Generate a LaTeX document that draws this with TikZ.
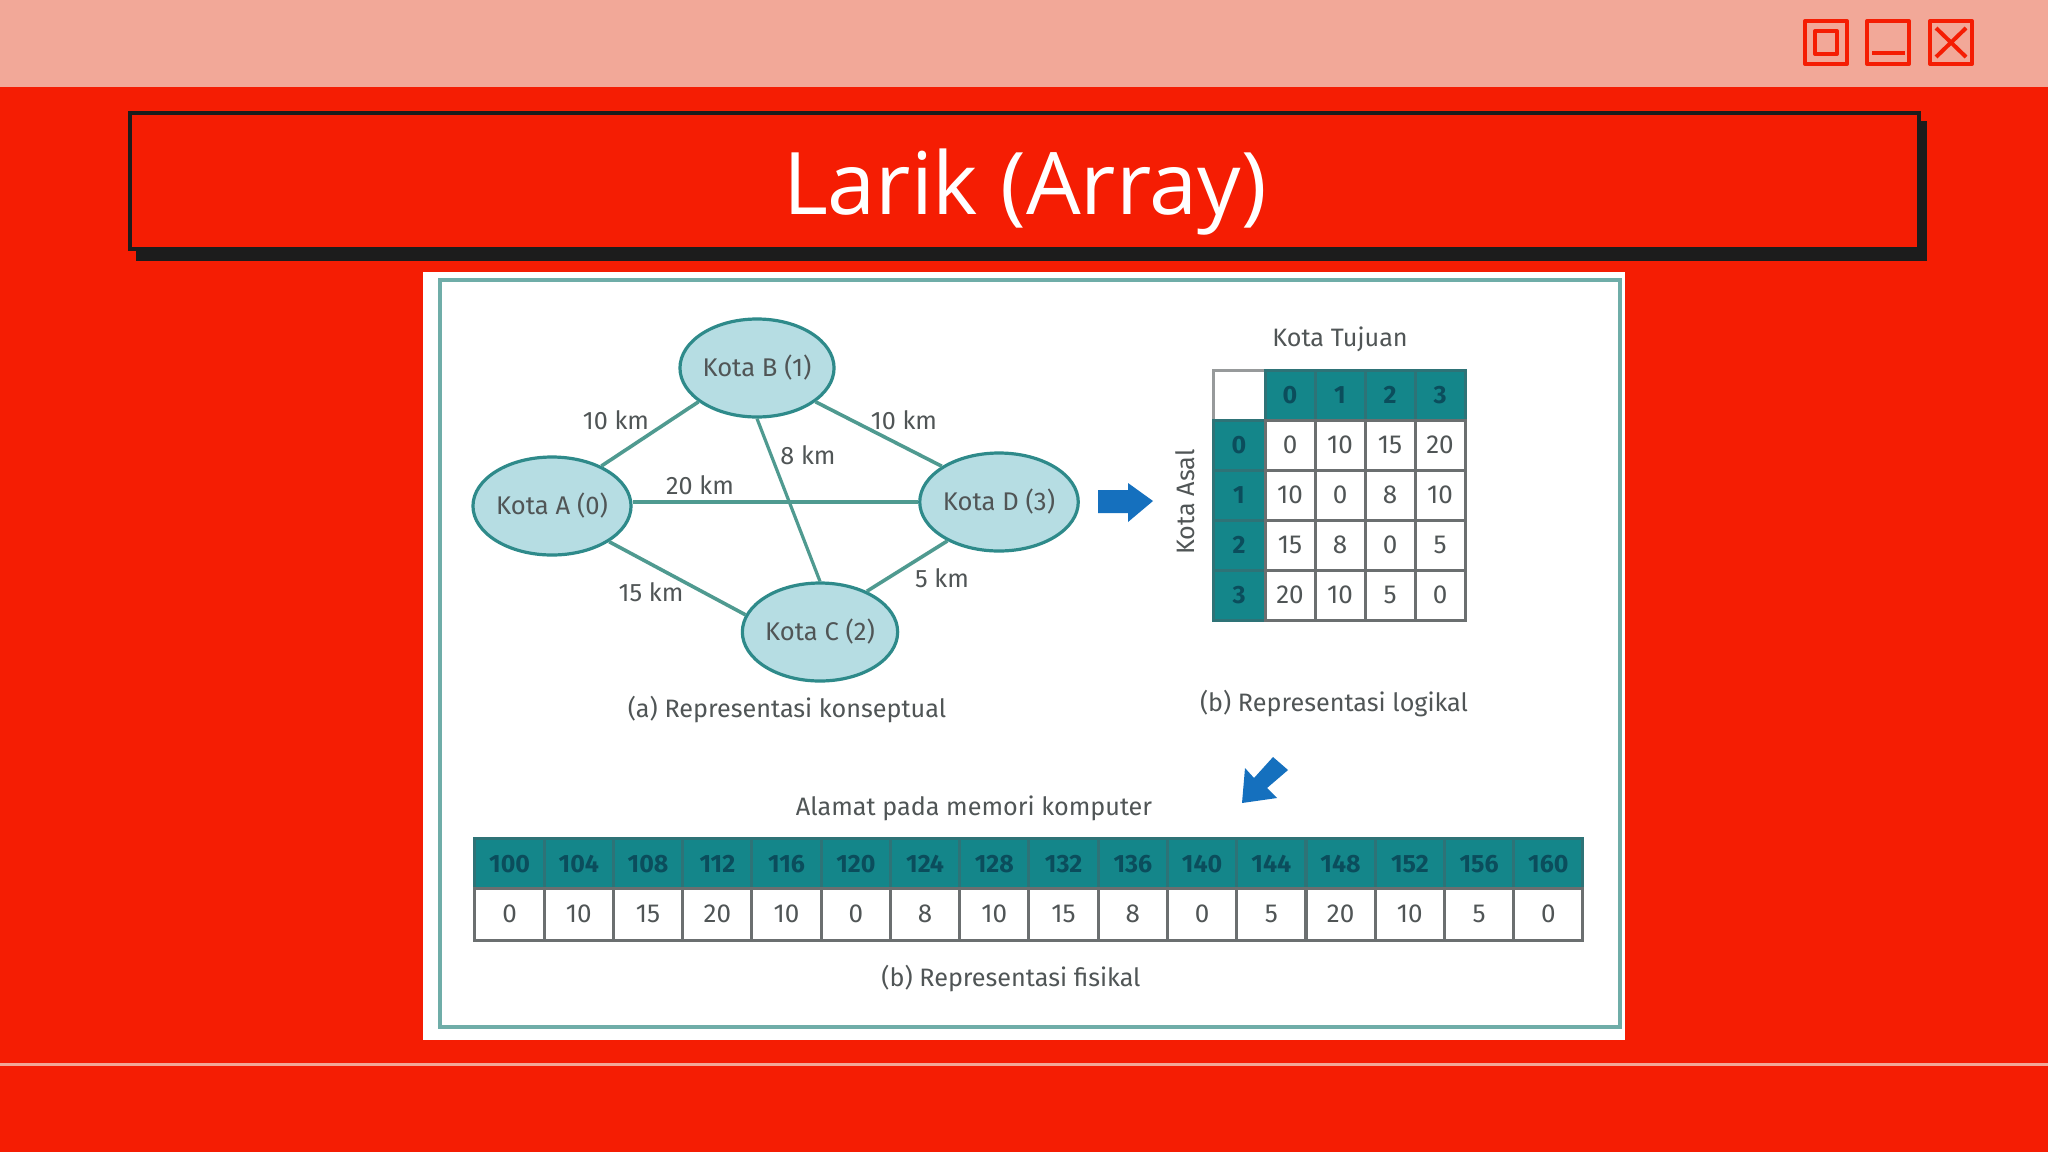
\documentclass[tikz,border=0pt]{standalone}
\usepackage{fontspec}
\setmainfont{Open Sans}
\newfontfamily\labelfont{Fira Sans}
\definecolor{bgred}{HTML}{F51D03}
\definecolor{band}{HTML}{F2A898}
\definecolor{inkblack}{HTML}{1C1C1C}
\definecolor{tealfill}{HTML}{14868A}
\definecolor{tealdark}{HTML}{0B4D5C}
\definecolor{tealline}{HTML}{2E7377}
\definecolor{nodefill}{HTML}{B6DDE3}
\definecolor{nodeedge}{HTML}{2E8A8A}
\definecolor{edgeline}{HTML}{4F9A90}
\definecolor{framec}{HTML}{6FADA8}
\definecolor{gridc}{HTML}{6B6F70}
\definecolor{textc}{HTML}{505556}
\definecolor{arrowc}{HTML}{1570BE}
\usetikzlibrary{shapes.geometric}
\tikzset{
  px/.style={x=0.5pt,y=-0.5pt},
  winicon/.style={draw=bgred,line width=2pt,line join=round},
  city/.style={ellipse,draw=nodeedge,fill=nodefill,line width=1.6pt,minimum width=74.5pt,minimum height=49pt,inner sep=0pt,font=\labelfont\fontsize{12.8}{14}\selectfont,text=textc},
  road/.style={draw=edgeline,line width=1.8pt},
  captext/.style={font=\labelfont\fontsize{12.6}{14}\selectfont,text=textc,inner sep=0pt},
  headcell/.style={rectangle,draw=tealline,line width=1.5pt,fill=tealfill,minimum width=25pt,minimum height=25pt,inner sep=0pt,text=tealdark,font=\labelfont\fontsize{12.5}{14}\selectfont\bfseries},
  datacell/.style={rectangle,draw=gridc,line width=1.5pt,fill=white,minimum width=25pt,minimum height=25pt,inner sep=0pt,text=textc,font=\labelfont\fontsize{13}{15}\selectfont},
  striphead/.style={headcell,minimum width=34.62pt,minimum height=25.5pt},
  stripdata/.style={datacell,minimum width=34.62pt,minimum height=26pt},
}
\begin{document}
\begin{tikzpicture}[px]
\useasboundingbox (0,0) rectangle (2048,1152);
\fill[bgred] (0,0) rectangle (2048,1152);
\fill[band] (0,0) rectangle (2048,87);
% window icons
\draw[winicon] (1805,21) rectangle (1847,64);
\draw[winicon] (1815,31) rectangle (1837,54);
\draw[winicon] (1867,21) rectangle (1909,64);
\draw[winicon] (1872,53) -- (1905,53);
\draw[winicon] (1930,21) rectangle (1972,64);
\draw[winicon] (1936,28) -- (1966,57) (1966,28) -- (1936,57);
% title
\fill[inkblack] (136,121) rectangle (1927,261);
\draw[draw=inkblack,fill=bgred,line width=2.2pt] (130,113) rectangle (1919,249);
\node[text=white,inner sep=0pt,font=\fontsize{43.2}{52}\selectfont] (title) at (1025,192) {Larik (Array)};
% panel
\fill[white] (423,272) rectangle (1625,1040);
\draw[framec,line width=1.6pt] (440,280) rectangle (1620,1027);
% graph
\node[city] (A) at (552,506) {Kota A (0)};
\node[city] (B) at (757,368) {Kota B (1)};
\node[city] (D) at (999,502) {Kota D (3)};
\node[city] (C) at (820,632) {Kota C (2)};
\draw[road] (A.39) -- (B.210);
\draw[road] (B.-30) -- (D.148);
\draw[road,line width=2.4pt] (D.west -| A.east) -- (D.west);
\draw[road,line width=1.6pt] (B.south) -- (C.north);
\draw[road] (A.-32) -- (C.167);
\draw[road] (C.41) -- (D.217);
\node[captext] (l1) at (616,420) {10 km};
\node[captext] (l2) at (904,420) {10 km};
\node[captext] (l3) at (808,455) {8 km};
\node[captext] (l4) at (700,485) {20 km};
\node[captext] (l5) at (651,592) {15 km};
\node[captext] (l6) at (942,578) {5 km};
\node[captext] (capa) at (787,710) {(a) Representasi konseptual};
% arrows
\fill[arrowc] (1098,490) -- (1128,490) -- (1128,483) -- (1153,501) -- (1128,522) -- (1128,513) -- (1098,513) -- cycle;
\fill[arrowc] (1242,803) -- (1245,768) -- (1254,778) -- (1273,757) -- (1288,770) -- (1267,788) -- (1277,798) -- cycle;
% logical table
\node[captext] (tujuan) at (1340,339) {Kota Tujuan};
\node[captext,rotate=90] (asal) at (1185,502) {Kota Asal};
\node[datacell,minimum width=26pt,draw=gridc!70] (corner) at (1239,395) {};
\foreach \i/\v in {0/0,1/1,2/2,3/3}{
  \node[headcell] (ch\i) at ({1290+50*\i},395) {\v};
  \node[headcell,minimum width=26pt] (rh\i) at (1239,{445+50*\i}) {\v};
}
\foreach \r/\row in {0/{0,10,15,20},1/{10,0,8,10},2/{15,8,0,5},3/{20,10,5,0}}{
  \foreach \v [count=\c from 0] in \row {
    \node[datacell] (m\r\c) at ({1290+50*\c},{445+50*\r}) {\v};
  }
}
\node[captext] (capb) at (1334,704) {(b) Representasi logikal};
% physical strip
\node[captext] (alamat) at (974,808) {Alamat pada memori komputer};
\foreach \a/\v [count=\k from 0] in {100/0,104/10,108/15,112/20,116/10,120/0,124/8,128/10,132/15,136/8,140/0,144/5,148/20,152/10,156/5,160/0}{
  \node[striphead] (sa\k) at ({509.6+69.25*\k},864) {\a};
  \node[stripdata] (sv\k) at ({509.6+69.25*\k},914) {\v};
}
\node[captext] (capc) at (1011,979) {(b) Representasi fisikal};
% footer rule
\draw[band,line width=1.5pt] (0,1064) -- (2048,1064);
\end{tikzpicture}
\end{document}
